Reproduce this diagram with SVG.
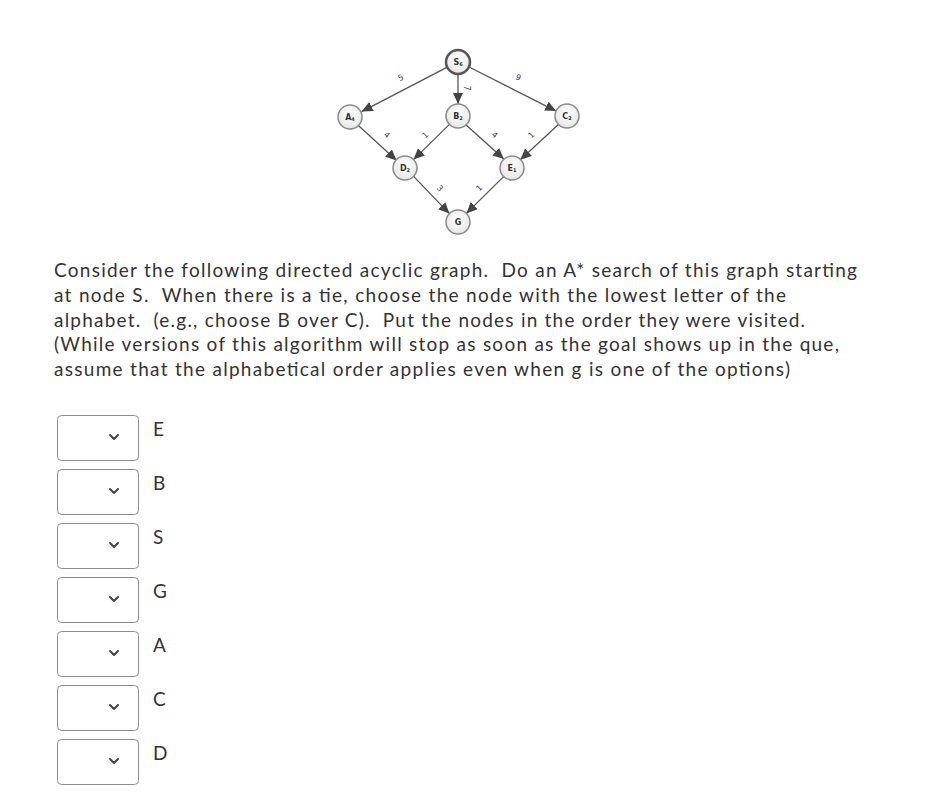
<svg xmlns="http://www.w3.org/2000/svg" width="933" height="795" viewBox="0 0 933 795">
<defs>
<radialGradient id="ng" cx="0.5" cy="0.4" r="0.6">
<stop offset="0" stop-color="#ffffff"/>
<stop offset="1" stop-color="#e6e6e6"/>
</radialGradient>
<marker id="ar" markerUnits="userSpaceOnUse" markerWidth="12" markerHeight="12" refX="11" refY="5" orient="auto">
<path d="M0,0 L11,5 L0,10 Z" fill="#444"/>
</marker>
<style>
.n{fill:url(#ng);stroke:#8a8a8a;stroke-width:1.5}
.ns{fill:url(#ng);stroke:#555;stroke-width:2.5}
.nt{font-family:"DejaVu Sans",sans-serif;font-size:8px;font-weight:bold;fill:#333;text-anchor:middle}
.sub{font-size:5px}
.e{stroke:#555;stroke-width:1.3;fill:none;marker-end:url(#ar)}
.el{font-family:"DejaVu Sans",sans-serif;font-size:8px;fill:#444;text-anchor:middle}
.q{font-family:Lato,"Open Sans",sans-serif;font-size:19px;fill:#333;white-space:pre}
.box{fill:#fff;stroke:#8c8c8c;stroke-width:1}
.chev{stroke:#444;stroke-width:2;fill:none;stroke-linecap:round;stroke-linejoin:round}
.lab{font-family:Lato,"Open Sans",sans-serif;font-size:19px;fill:#333}
</style>
</defs>
<rect width="933" height="795" fill="#fff"/>
<g id="connectors">
<line class="e" x1="447.3" y1="67.2" x2="361.7" y2="111.6"/>
<line class="e" x1="458" y1="74" x2="458" y2="104"/>
<line class="e" x1="469.1" y1="67.0" x2="556.1" y2="111.1"/>
<line class="e" x1="358.4" y1="125.6" x2="396.6" y2="160.4"/>
<line class="e" x1="449.4" y1="124.4" x2="413.6" y2="159.6"/>
<line class="e" x1="466.1" y1="124.9" x2="503.9" y2="159.1"/>
<line class="e" x1="558.6" y1="124.3" x2="520.4" y2="159.7"/>
<line class="e" x1="413.6" y1="176.4" x2="449.4" y2="213.6"/>
<line class="e" x1="503.6" y1="176.6" x2="466.4" y2="213.4"/>
<text class="el" transform="translate(402,80) rotate(-27)">5</text>
<text class="el" transform="translate(464,88) rotate(90)">7</text>
<text class="el" transform="translate(517,80) rotate(27)">9</text>
<text class="el" transform="translate(385,137) rotate(43)">4</text>
<text class="el" transform="translate(427,137) rotate(-44)">1</text>
<text class="el" transform="translate(493,137) rotate(42)">4</text>
<text class="el" transform="translate(533,137) rotate(-43)">1</text>
<text class="el" transform="translate(438,190) rotate(46)">3</text>
<text class="el" transform="translate(481,190) rotate(-45)">1</text>
</g>
<g id="node-S"><circle class="ns" cx="458" cy="62" r="12"/><text class="nt" x="458" y="65">S<tspan class="sub" dy="1">6</tspan></text></g>
<g id="node-A"><circle class="n" cx="350" cy="117" r="12"/><text class="nt" x="350" y="120">A<tspan class="sub" dy="1">4</tspan></text></g>
<g id="node-B"><circle class="n" cx="458" cy="116" r="12"/><text class="nt" x="458" y="119">B<tspan class="sub" dy="1">2</tspan></text></g>
<g id="node-C"><circle class="n" cx="567" cy="116" r="12"/><text class="nt" x="567" y="119">C<tspan class="sub" dy="1">2</tspan></text></g>
<g id="node-D"><circle class="n" cx="405" cy="168" r="12"/><text class="nt" x="405" y="171">D<tspan class="sub" dy="1">2</tspan></text></g>
<g id="node-E"><circle class="n" cx="512" cy="168" r="12"/><text class="nt" x="512" y="171">E<tspan class="sub" dy="1">1</tspan></text></g>
<g id="node-G"><circle class="n" cx="458" cy="222" r="12"/><text class="nt" x="458" y="225">G</text></g>
<g id="question">
<text class="q" x="54" y="277" textLength="803" lengthAdjust="spacing">Consider the following directed acyclic graph.  Do an A* search of this graph starting</text>
<text class="q" x="54" y="302" textLength="732" lengthAdjust="spacing">at node S.  When there is a tie, choose the node with the lowest letter of the</text>
<text class="q" x="54" y="327" textLength="751" lengthAdjust="spacing">alphabet.  (e.g., choose B over C).  Put the nodes in the order they were visited.</text>
<text class="q" x="54" y="351" textLength="785" lengthAdjust="spacing">(While versions of this algorithm will stop as soon as the goal shows up in the que,</text>
<text class="q" x="54" y="376" textLength="736" lengthAdjust="spacing">assume that the alphabetical order applies even when g is one of the options)</text>
</g>
<g id="dropdowns">
<g id="dd1"><rect class="box" x="57.5" y="415.5" width="81" height="45" rx="4"/><path class="chev" d="M110,435 L114,439 L118,435"/><text class="lab" x="153" y="436">E</text></g>
<g id="dd2"><rect class="box" x="57.5" y="469.5" width="81" height="45" rx="4"/><path class="chev" d="M110,489 L114,493 L118,489"/><text class="lab" x="153" y="490">B</text></g>
<g id="dd3"><rect class="box" x="57.5" y="523.5" width="81" height="45" rx="4"/><path class="chev" d="M110,543 L114,547 L118,543"/><text class="lab" x="153" y="544">S</text></g>
<g id="dd4"><rect class="box" x="57.5" y="577.5" width="81" height="45" rx="4"/><path class="chev" d="M110,597 L114,601 L118,597"/><text class="lab" x="153" y="598">G</text></g>
<g id="dd5"><rect class="box" x="57.5" y="631.5" width="81" height="45" rx="4"/><path class="chev" d="M110,651 L114,655 L118,651"/><text class="lab" x="153" y="652">A</text></g>
<g id="dd6"><rect class="box" x="57.5" y="685.5" width="81" height="45" rx="4"/><path class="chev" d="M110,705 L114,709 L118,705"/><text class="lab" x="153" y="706">C</text></g>
<g id="dd7"><rect class="box" x="57.5" y="739.5" width="81" height="45" rx="4"/><path class="chev" d="M110,759 L114,763 L118,759"/><text class="lab" x="153" y="760">D</text></g>
</g>
</svg>
